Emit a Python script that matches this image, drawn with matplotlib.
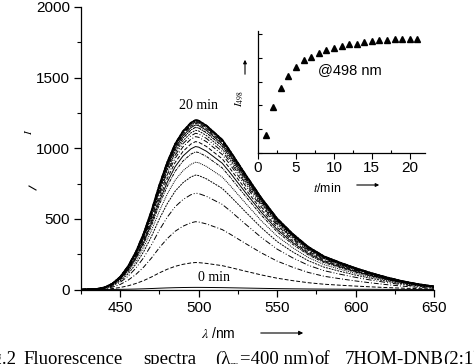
import numpy as np
import matplotlib
matplotlib.use("Agg")
import matplotlib.pyplot as plt
from matplotlib.ticker import MultipleLocator

# Data
# outermost spectrum (21 min), fluorescence intensity vs wavelength
wavelength = [425, 435, 440, 445, 450, 455, 460, 465, 470, 475, 480, 485, 490,
              495, 498, 500, 505, 510, 515, 520, 525, 530, 540, 550, 560, 570,
              580, 590, 600, 610, 620, 630, 640, 650]
outer_spectrum = [0, 4, 15, 42, 90, 165, 268, 400, 562, 745, 905, 1035, 1125,
                  1185, 1205, 1200, 1165, 1115, 1065, 985, 900, 815, 650, 505,
                  395, 302, 235, 192, 152, 117, 86, 59, 38, 22]

# intensity at 498 nm for each time (min)
times = [1, 2, 3, 4, 5, 6, 7, 8, 9, 10, 11, 12, 13, 14, 15, 16, 17, 18, 19, 20, 21]
i498 = [191, 480, 682, 810, 901, 974, 1012, 1047, 1082, 1106, 1127, 1148, 1148,
        1165, 1176, 1186, 1186, 1193, 1200, 1200, 1200]
i498_zero = 15  # 0 min spectrum peak

W, H = 474, 364


def px(x, y):
    return x / W, 1 - y / H


plt.rcParams['mathtext.fontset'] = 'stix'

fig = plt.figure(figsize=(W / 100, H / 100), dpi=100)
ax = fig.add_axes([81 / W, 1 - 289.5 / H, (434 - 81) / W, (289.5 - 7) / H])

styles = ['-', (0, (4, 2)), (0, (5, 2, 1, 2)), (0, (6, 2, 1, 2, 1, 2)),
          (0, (2, 1)), (0, (1, 1)), (0, (3, 1, 1, 1))]

wl = np.array(wavelength)
shape = np.array(outer_spectrum) / outer_spectrum[wavelength.index(498)]
peaks = [i498_zero] + i498
for k, p in enumerate(peaks):
    ax.plot(wl, shape * p, color='black', lw=0.7 if k < 20 else 1.2,
            ls=styles[k % len(styles)])

ax.set_xlim(425, 650)
ax.set_ylim(0, 2000)
ax.xaxis.set_major_locator(MultipleLocator(50))
ax.xaxis.set_minor_locator(MultipleLocator(25))
ax.yaxis.set_major_locator(MultipleLocator(500))
ax.yaxis.set_minor_locator(MultipleLocator(250))
for s in ['top', 'right']:
    ax.spines[s].set_visible(False)
for s in ['left', 'bottom']:
    ax.spines[s].set_linewidth(0.9)
ax.tick_params(which='major', direction='out', length=5, width=0.9,
               labelsize=11, pad=3)
ax.tick_params(which='minor', direction='out', length=3, width=0.8)
for lab in ax.get_xticklabels() + ax.get_yticklabels():
    lab.set_fontfamily('Liberation Sans')

ax.text(500, 1260, '20 min', ha='center', va='bottom', fontsize=10,
        family='Liberation Serif')
ax.text(510, 40, '0 min', ha='center', va='bottom', fontsize=10,
        family='Liberation Serif')

# axis labels with arrows
fig.text(*px(28, 132), '$I$', rotation=90, ha='center', va='center', fontsize=8)
fig.add_artist(plt.Line2D([29 / W, 36 / W], [1 - 186 / H, 1 - 190 / H],
                          color='black', lw=0.8))
fig.text(*px(218, 333), r'$\lambda$ /nm', ha='center', va='center', fontsize=10,
         family='Liberation Sans')
ax.annotate('', xy=px(306, 333), xytext=px(258, 333), xycoords='figure fraction',
            textcoords='figure fraction',
            arrowprops=dict(arrowstyle='-|>', color='black', lw=0.8,
                            mutation_scale=6))

# inset
ins = fig.add_axes([258 / W, 1 - 153 / H, (425 - 258) / W, (153 - 31) / H])
ins.plot(times, i498, ls='none', marker='^', color='black', markersize=4.5)
ins.set_xlim(0, 22)
ins.set_ylim(0, 1280)
ins.xaxis.set_major_locator(MultipleLocator(5))
ins.xaxis.set_minor_locator(MultipleLocator(2.5))
ins.yaxis.set_major_locator(MultipleLocator(250))
ins.set_yticklabels([])
for s in ['top', 'right']:
    ins.spines[s].set_visible(False)
for s in ['left', 'bottom']:
    ins.spines[s].set_linewidth(0.9)
ins.tick_params(axis='x', which='major', direction='out', length=4, width=0.8,
                labelsize=11, pad=2)
ins.tick_params(axis='x', which='minor', direction='in', length=2, width=0.8)
ins.tick_params(axis='y', which='major', direction='in', length=3, width=0.8)
ins.patch.set_alpha(0)
for lab in ins.get_xticklabels():
    lab.set_fontfamily('Liberation Sans')

ins.text(0.55, 0.68, '@498 nm', transform=ins.transAxes, ha='center',
         va='center', fontsize=10.5, family='Liberation Sans')
fig.text(*px(239, 99), '$I_{498}$', rotation=90, ha='center', va='center',
         fontsize=8)
ins.annotate('', xy=px(245, 57), xytext=px(245, 77), xycoords='figure fraction',
             textcoords='figure fraction',
             arrowprops=dict(arrowstyle='-|>', color='black', lw=0.8,
                             mutation_scale=5))
fig.text(*px(327, 188), '$t$/min', ha='center', va='center', fontsize=9,
         family='Liberation Sans')
ins.annotate('', xy=px(382, 185), xytext=px(354, 185), xycoords='figure fraction',
             textcoords='figure fraction',
             arrowprops=dict(arrowstyle='-|>', color='black', lw=0.8,
                             mutation_scale=5))

# caption (cut off at the figure edges)
caption_words = [('Fig.2', 16, 'right'), ('Fluorescence', 23, 'left'),
                 ('spectra', 143, 'left'), ('(λ', 215, 'left'),
                 ('=400 nm)', 240, 'left'), ('of', 314, 'left'),
                 ('7HOM-DNB', 345, 'left'), ('(2:1)', 443, 'left')]
for word, x, ha in caption_words:
    fig.text(x / W, 1 - 364 / H, word, ha=ha, va='baseline', fontsize=13.5,
             family='Liberation Serif')
fig.text(230 / W, 1 - 368 / H, 'ex', ha='left', va='baseline', fontsize=7,
         family='Liberation Serif')

fig.savefig('out.png', dpi=100)
